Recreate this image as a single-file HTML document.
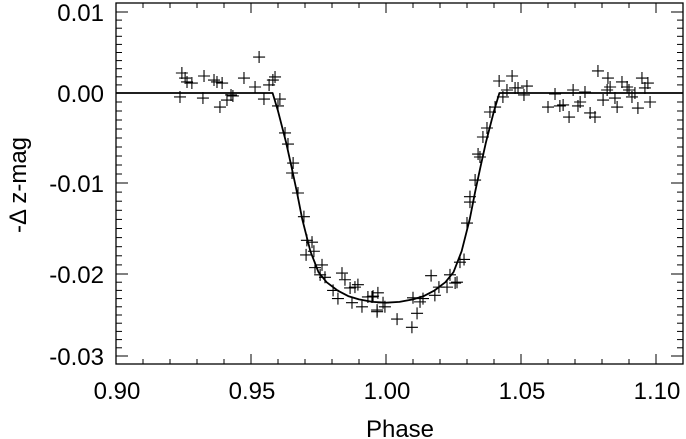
<!DOCTYPE html>
<html><head><meta charset="utf-8"><style>
html,body{margin:0;padding:0;background:#fff;}
svg{display:block;font-family:"Liberation Sans",Arial,sans-serif;}
</style></head><body>
<svg id="chart" width="686" height="439"></svg>
<script>
const xTicks=[0.90,0.95,1.00,1.05,1.10];
const xTickLabels=["0.90","0.95","1.00","1.05","1.10"];
const yTicks=[0.01,0.00,-0.01,-0.02,-0.03];
const yTickLabels=["0.01","0.00","-0.01","-0.02","-0.03"];
const obsPhase=[.9244,.9256,.9263,.9281,.9237,.9322,.9326,.9363,.9374,.9393,.9385,.9411,.9426,.9433,.9474,.9530,.9515,.9548,.9567,.9581,.9589,.9607,.9600,.9626,.9637,.9656,.9652,.9674,.9696,.9707,.9726,.9733,.9704,.9737,.9763,.9774,.9756,.9804,.9822,.9837,.9848,.9867,.9885,.9896,.9874,.9911,.9933,.9952,.9967,.9948,.9970,.9967,.9989,.9996,1.0041,1.0096,1.0115,1.0100,1.0126,1.0137,1.0167,1.0181,1.0196,1.0226,1.0237,1.0256,1.0263,1.0274,1.0289,1.0300,1.0311,1.0311,1.0330,1.0348,1.0341,1.0359,1.0374,1.0385,1.0404,1.0419,1.0433,1.0448,1.0467,1.0478,1.0489,1.0511,1.0522,1.0600,1.0626,1.0644,1.0656,1.0678,1.0693,1.0711,1.0719,1.0737,1.0756,1.0774,1.0785,1.0804,1.0819,1.0822,1.0830,1.0848,1.0856,1.0874,1.0893,1.0900,1.0911,1.0922,1.0933,1.0948,1.0959,1.0970,1.0978];
const obsMag=[2.47,1.85,1.36,1.23,-0.44,-0.56,2.10,1.60,1.36,1.23,-1.56,-0.78,-0.22,-0.33,1.85,4.44,0.74,-0.67,0.99,1.60,1.98,-0.67,-1.44,-4.44,-5.67,-7.78,-8.89,-11.1,-13.7,-16.3,-16.5,-17.5,-17.9,-19.3,-19.0,-20.4,-20.1,-22.0,-23.0,-19.9,-20.7,-21.7,-21.6,-21.3,-23.5,-24.0,-22.8,-22.7,-24.6,-22.8,-22.3,-24.4,-23.5,-24.0,-25.5,-26.5,-24.8,-22.9,-23.4,-23.0,-20.2,-22.6,-21.6,-21.6,-20.1,-21.1,-21.0,-18.7,-18.4,-14.4,-12.1,-11.5,-9.67,-7.11,-6.78,-4.89,-3.89,-2.11,-1.56,1.48,-0.44,0.37,2.10,0.62,0.62,-0.22,0.86,-1.56,-0.11,-1.44,-1.33,-2.67,0.37,-1.44,-1.0,0.12,-2.22,-2.67,2.72,-0.78,0.37,1.85,0.74,-0.56,-1.56,1.36,0.74,0.37,-0.44,0,-1.67,1.85,0.62,1.23,-1.0];
const modelPhase=[0.90,0.958,0.960,0.963,0.965,0.967,0.969,0.972,0.975,0.978,0.982,0.986,0.990,0.995,1.000,1.005,1.010,1.014,1.018,1.022,1.025,1.028,1.031,1.033,1.035,1.037,1.040,1.042,1.11];
const modelMag=[0,0,-2.0,-5.5,-8.2,-11.0,-14.0,-17.5,-19.8,-21.0,-22.0,-22.7,-23.1,-23.4,-23.5,-23.4,-23.1,-22.7,-22.0,-21.0,-19.8,-17.5,-14.0,-11.0,-8.2,-5.5,-2.0,0,0];

const NS="http://www.w3.org/2000/svg";
const svg=document.getElementById('chart');
const L=116,R=683,T=3,B=364;
function xs(p){return L+(p-0.90)*2700;}
const yK=[0.011,0.01,0.0,-0.01,-0.02,-0.03,-0.031];
const yP=[3,12,93,183,274,356,364];
function ys(v){for(let i=0;i<yK.length-1;i++){if(v<=yK[i]&&v>=yK[i+1]){return yP[i]+(yK[i]-v)/(yK[i]-yK[i+1])*(yP[i+1]-yP[i]);}}return v>0?T:B;}
function mk(tag,attrs){const e=document.createElementNS(NS,tag);for(const k in attrs)e.setAttribute(k,attrs[k]);svg.appendChild(e);return e;}

let f=mk('rect',{x:L,y:T,width:R-L,height:B-T,fill:'none',stroke:'#000','stroke-width':1.3});



for(let i=0;i<=21;i++){const p=0.90+i*0.01;const x=xs(p);const major=i%5===0;const len=major?10:5;
  const t1=mk('line',{x1:x,y1:B,x2:x,y2:B-len,stroke:'#000','stroke-width':1});
  
  
  const t2=mk('line',{x1:x,y1:T,x2:x,y2:T+len,stroke:'#000','stroke-width':1});
  
  }
xTicks.forEach((p,i)=>{const t=mk('text',{x:xs(p)+1,y:399,'text-anchor':'middle','font-size':24,fill:'#000'});t.textContent=xTickLabels[i];
  
  });
for(let i=-31;i<=11;i++){const v=i*0.001;const y=ys(v);const major=i%10===0;const len=major?12:6;
  const t1=mk('line',{x1:L,y1:y,x2:L+len,y2:y,stroke:'#000','stroke-width':1});
  
  
  const t2=mk('line',{x1:R,y1:y,x2:R-len,y2:y,stroke:'#000','stroke-width':1});
  
  }
yTicks.forEach((v,i)=>{const t=mk('text',{x:104,y:ys(v)+9,'text-anchor':'end','font-size':24,fill:'#000'});t.textContent=yTickLabels[i];
  
  });
let xt=mk('text',{x:400,y:437,'text-anchor':'middle','font-size':24,fill:'#000'});xt.textContent='Phase';


let yt=mk('text',{x:0,y:0,'text-anchor':'middle','font-size':24,fill:'#000',transform:'translate(26,185) rotate(-90)'});yt.textContent='-Δ z-mag';



let d='';modelPhase.forEach((p,i)=>{d+=(i?'L':'M')+xs(p).toFixed(1)+','+ys(modelMag[i]/1000).toFixed(1);});
let ml=mk('path',{d:d,fill:'none',stroke:'#000','stroke-width':1.8,'stroke-linejoin':'round'});



obsPhase.forEach((p,i)=>{const x=xs(p),y=ys(obsMag[i]/1000);
  const pt=mk('path',{d:`M${x-6},${y}H${x+6}M${x},${y-6}V${y+6}`,stroke:'#000','stroke-width':1.1,fill:'none'});
  
  });
</script>
</body></html>
